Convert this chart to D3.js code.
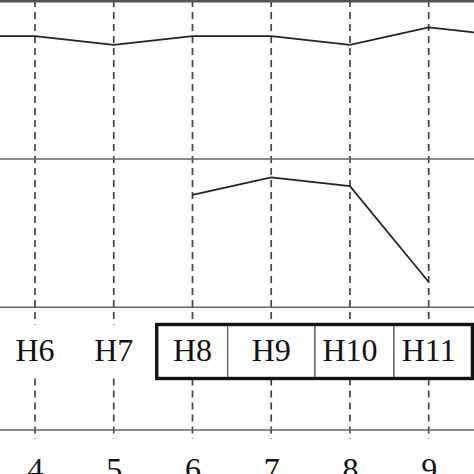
<!DOCTYPE html>
<html>
<head>
<meta charset="utf-8">
<script src="https://cdn.jsdelivr.net/npm/d3@7"></script>
<style>
	body { margin: 0; background: #fff; }
	svg { display: block; font-family: 'Liberation Serif', 'Times New Roman', serif; }
	.axis text { font-size: 32px; fill: #111; }
</style>
</head>
<body>
<div id="chart"></div>
<script>
// data
const xTicks = [4, 5, 6, 7, 8, 9];
const topX = [3, 4, 5, 6, 7, 8, 9, 10];
const topVals = [14, 14, 13, 14, 14, 13, 15, 14];
const midX = [6, 7, 8, 9];
const midVals = [13, 15, 14, 3];
const hLabels = ['H6', 'H7', 'H8', 'H9', 'H10', 'H11'];
const boxEdges = [5.546, 6.447, 7.556, 8.559, 9.556];

(() => {
	const width = 474;
	const height = 474;
	const svg = d3.select('#chart').append('svg')
		.attr('width', width)
		.attr('height', height);

	const x = d3.scaleLinear()
		.domain([4, 9])
		.range([35, 428.7]);
	const yTop = d3.scaleLinear()
		.domain([0, 18])
		.range([159, 1]);
	const yMid = d3.scaleLinear()
		.domain([0, 17])
		.range([308.2, 160]);

	const bandTop = 324.5;
	const bandBottom = 378.5;

	// dashed vertical guides, broken around the label band
	const segs = [];
	xTicks.forEach(t => {
		segs.push({ t, y0: 0, y1: bandTop });
		segs.push({ t, y0: bandBottom, y1: 439 });
	});
	svg.selectAll('.guide')
		.data(segs)
		.enter().append('line')
			.attr('class', 'guide')
			.attr('x1', d => x(d.t))
			.attr('x2', d => x(d.t))
			.attr('y1', d => d.y0)
			.attr('y2', d => d.y1)
			.attr('stroke', '#444')
			.attr('stroke-width', 1.7)
			.attr('stroke-dasharray', '7,5');

	// panel separators
	svg.append('line')
		.attr('x1', 0).attr('x2', width)
		.attr('y1', 1).attr('y2', 1)
		.attr('stroke', '#555')
		.attr('stroke-width', 3);
	svg.selectAll('.sep')
		.data([159, 307.3, 430])
		.enter().append('line')
			.attr('class', 'sep')
			.attr('x1', 0).attr('x2', width)
			.attr('y1', d => d).attr('y2', d => d)
			.attr('stroke', '#666')
			.attr('stroke-width', 1.5);

	// top series
	const lineTop = d3.line()
		.x((d, i) => x(topX[i]))
		.y(d => yTop(d));
	svg.append('path')
		.datum(topVals)
		.attr('d', lineTop)
		.attr('fill', 'none')
		.attr('stroke', '#222')
		.attr('stroke-width', 1.7);

	// middle series
	const lineMid = d3.line()
		.x((d, i) => x(midX[i]))
		.y(d => yMid(d));
	svg.append('path')
		.datum(midVals)
		.attr('d', lineMid)
		.attr('fill', 'none')
		.attr('stroke', '#222')
		.attr('stroke-width', 1.7);

	// box around H8..H11
	const cells = d3.pairs(boxEdges);
	svg.selectAll('.cell')
		.data(cells)
		.enter().append('rect')
			.attr('class', 'cell')
			.attr('x', d => x(d[0]))
			.attr('y', bandTop)
			.attr('width', d => x(d[1]) - x(d[0]))
			.attr('height', bandBottom - bandTop)
			.attr('fill', '#fff')
			.attr('stroke', '#555')
			.attr('stroke-width', 1.2);
	svg.append('rect')
		.attr('x', x(boxEdges[0]))
		.attr('y', bandTop)
		.attr('width', x(boxEdges[boxEdges.length - 1]) - x(boxEdges[0]))
		.attr('height', bandBottom - bandTop)
		.attr('fill', 'none')
		.attr('stroke', '#111')
		.attr('stroke-width', 3.4);

	// H labels
	svg.selectAll('.hlabel')
		.data(hLabels)
		.enter().append('text')
			.attr('class', 'hlabel')
			.attr('x', (d, i) => x(xTicks[i]))
			.attr('y', 361)
			.attr('text-anchor', 'middle')
			.style('font-size', '32px')
			.style('fill', '#111')
			.text(d => d);

	// bottom axis labels
	const xAxis = d3.axisBottom(x)
		.tickValues(xTicks)
		.tickSize(0)
		.tickPadding(19)
		.tickFormat(d3.format('d'));
	const axisG = svg.append('g')
		.attr('class', 'axis')
		.attr('transform', 'translate(0, 438)')
		.call(xAxis);
	axisG.attr('font-family', null).attr('font-size', null);
	axisG.select('.domain').remove();
})();
</script>
</body>
</html>
